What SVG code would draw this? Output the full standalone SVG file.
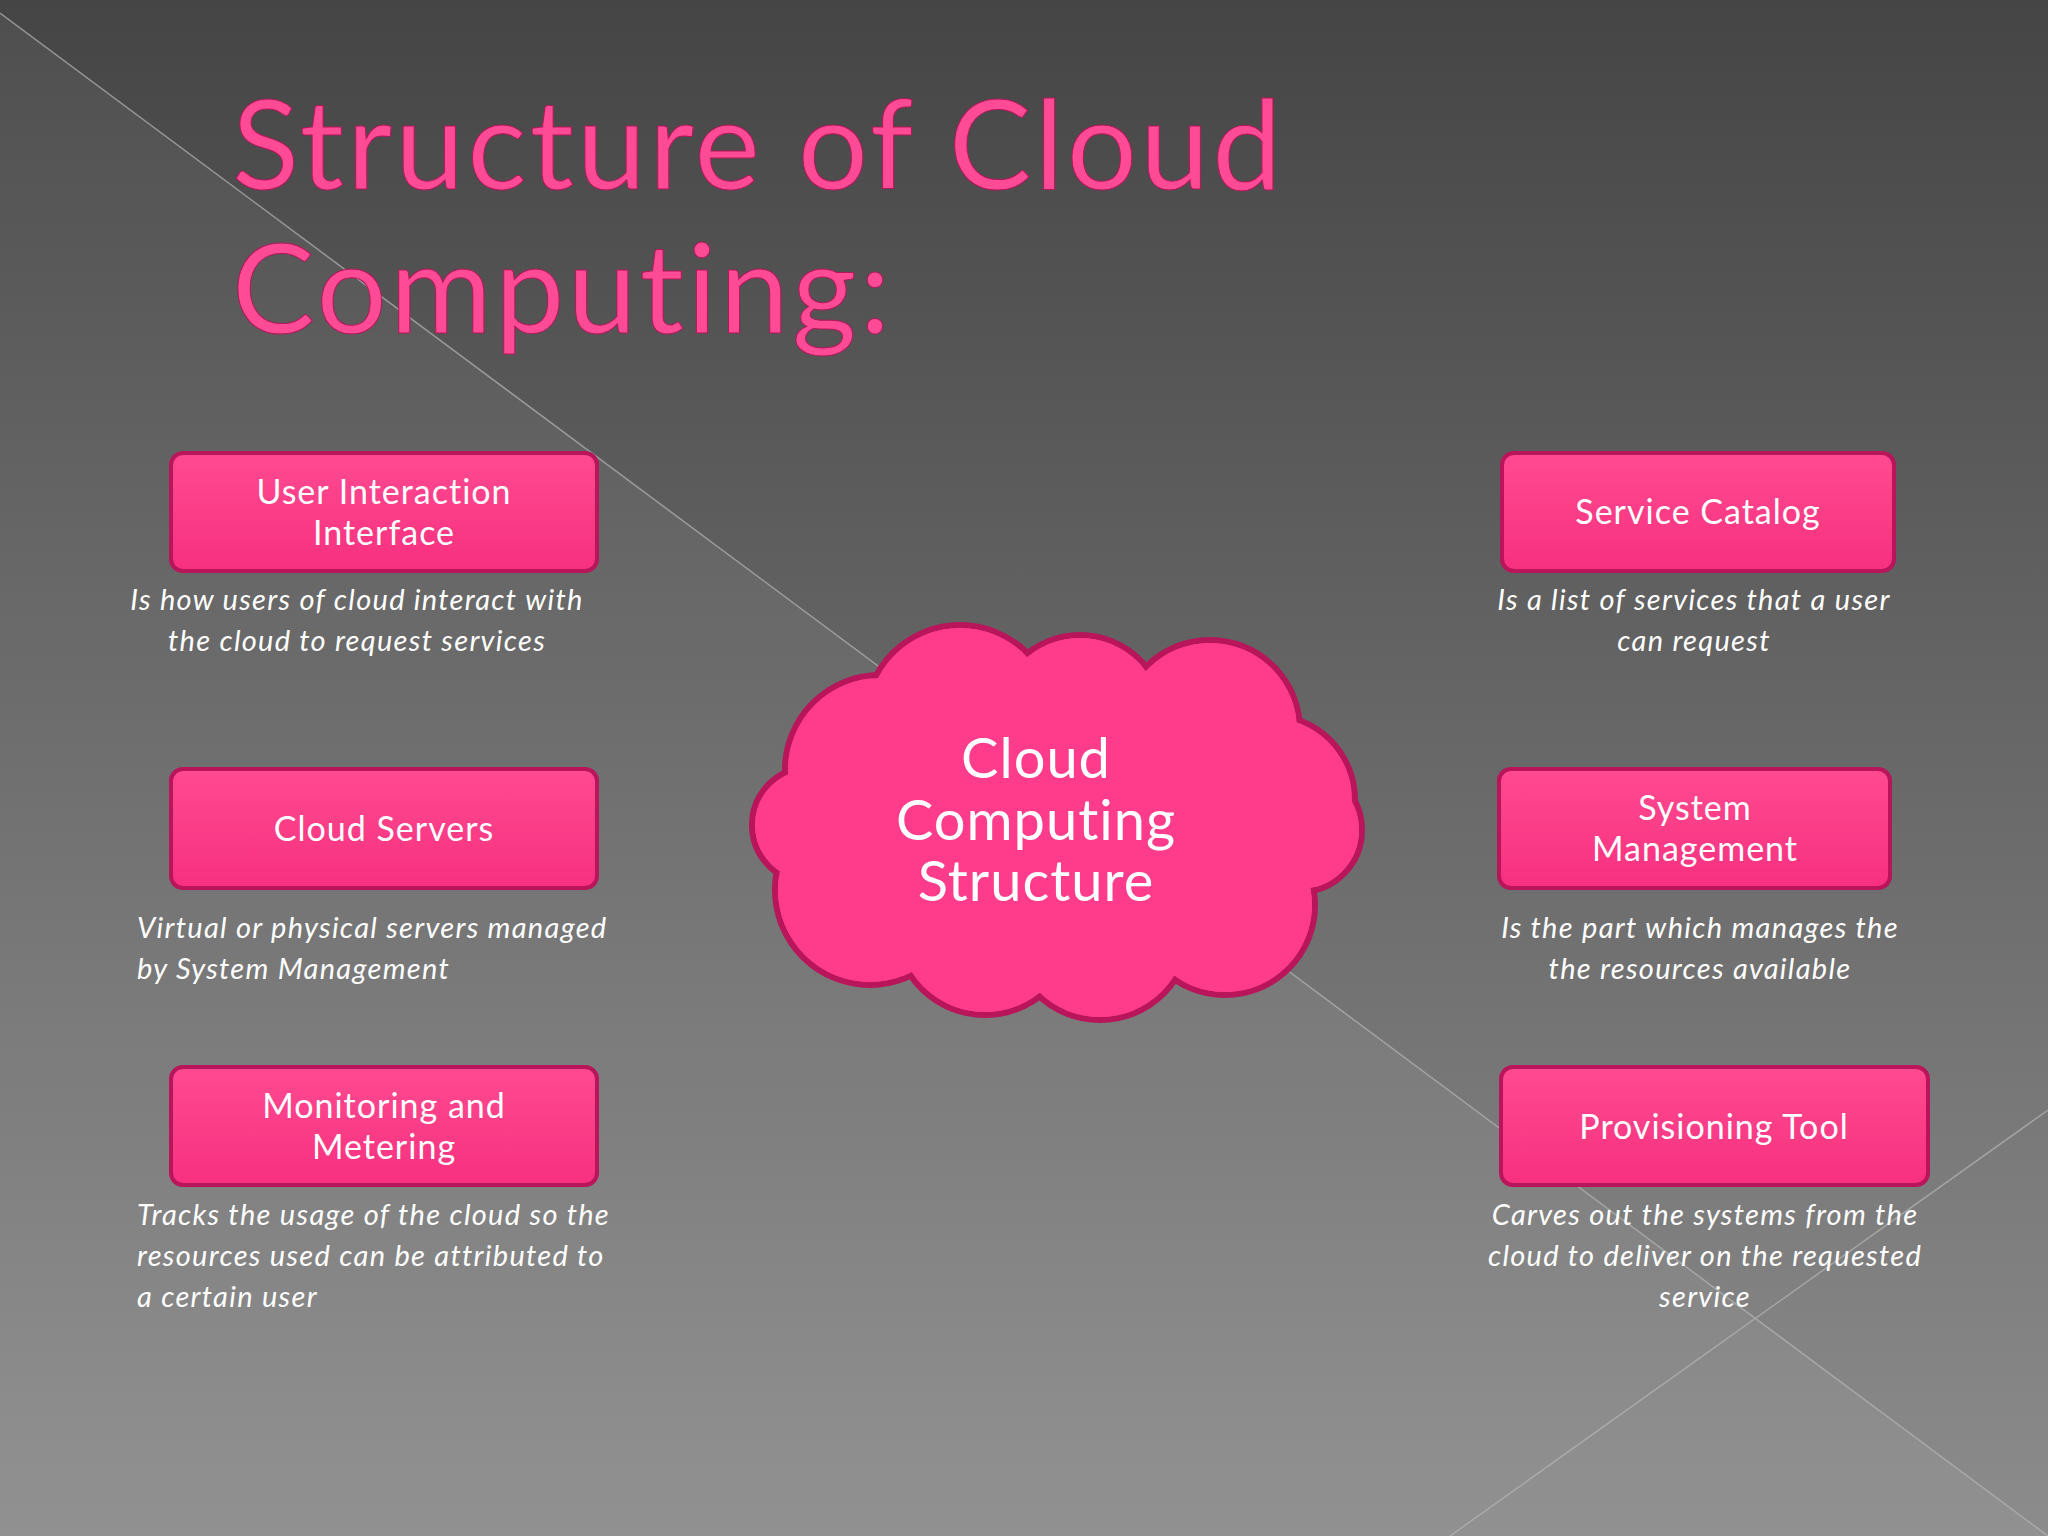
<svg xmlns="http://www.w3.org/2000/svg" width="2048" height="1536" viewBox="0 0 2048 1536">
<defs>
<linearGradient id="bg" x1="0" y1="0" x2="0" y2="1"><stop offset="0" stop-color="#454545"/><stop offset="1" stop-color="#8c8c8c"/></linearGradient>
<linearGradient id="bx" x1="0" y1="0" x2="0" y2="1"><stop offset="0" stop-color="#ff4a90"/><stop offset="1" stop-color="#f7307f"/></linearGradient>
</defs>
<style>
.box{fill:url(#bx);stroke:#b8155a;stroke-width:4}
.bt{font-family:Lato,"Noto Sans",sans-serif;font-size:34px;fill:#fff;text-anchor:middle;letter-spacing:1px}
.d{font-family:Lato,"Noto Sans",sans-serif;font-size:29px;font-style:italic;fill:#fff;letter-spacing:1.3px}
.ttl{font-family:Lato,"Noto Sans",sans-serif;font-size:124px;fill:#ff4a95;stroke:#b01858;stroke-width:1;letter-spacing:3px}
.ln{stroke:#b5b5b5;stroke-width:1.5;fill:none;opacity:.7}
.cs{fill:#ff3c8c;stroke:#b8155a;stroke-width:6}
.cf{fill:#ff3c8c}
</style>
<rect width="2048" height="1536" fill="url(#bg)"/>
<polygon points="0,13 2048,1536 0,1536" fill="#fff" opacity="0.05"/>
<g class="ln"><line x1="0" y1="13" x2="2048" y2="1536"/><line x1="2048" y1="1110" x2="1450" y2="1536"/></g>
<text class="ttl" x="232" y="189">Structure of Cloud</text>
<text class="ttl" x="232" y="333">Computing:</text>
<g id="cloud">
<g class="cs"><circle cx="880" cy="770" r="95"/><circle cx="960" cy="720" r="95"/><circle cx="1080" cy="720" r="85"/><circle cx="1210" cy="730" r="90"/><circle cx="1270" cy="800" r="85"/><circle cx="1300" cy="830" r="62"/><circle cx="1225" cy="905" r="90"/><circle cx="1100" cy="930" r="90"/><circle cx="985" cy="925" r="90"/><circle cx="870" cy="890" r="95"/><circle cx="810" cy="825" r="58"/></g>
<g class="cf"><circle cx="880" cy="770" r="92"/><circle cx="960" cy="720" r="92"/><circle cx="1080" cy="720" r="82"/><circle cx="1210" cy="730" r="87"/><circle cx="1270" cy="800" r="82"/><circle cx="1300" cy="830" r="59"/><circle cx="1225" cy="905" r="87"/><circle cx="1100" cy="930" r="87"/><circle cx="985" cy="925" r="87"/><circle cx="870" cy="890" r="92"/><circle cx="810" cy="825" r="55"/><circle cx="1060" cy="830" r="150"/></g>
<text class="bt" style="font-size:56px" x="1036" y="778">Cloud</text>
<text class="bt" style="font-size:56px" x="1036" y="840">Computing</text>
<text class="bt" style="font-size:56px" x="1036" y="901">Structure</text>
</g>
<g id="uii"><rect class="box" x="171" y="453" width="426" height="118" rx="12"/><text class="bt" x="384" y="504">User Interaction</text><text class="bt" x="384" y="545">Interface</text>
<text class="d" x="357" y="610" text-anchor="middle">Is how users of cloud interact with</text><text class="d" x="357" y="651" text-anchor="middle">the cloud to request services</text></g>
<g id="cs"><rect class="box" x="171" y="769" width="426" height="119" rx="12"/><text class="bt" x="384" y="841">Cloud Servers</text>
<text class="d" x="137" y="938">Virtual or physical servers  managed</text><text class="d" x="137" y="979">by System  Management</text></g>
<g id="mm"><rect class="box" x="171" y="1067" width="426" height="118" rx="12"/><text class="bt" x="384" y="1118">Monitoring and</text><text class="bt" x="384" y="1159">Metering</text>
<text class="d" x="137" y="1225">Tracks the usage of the cloud so the</text><text class="d" x="137" y="1266">resources used can be attributed to</text><text class="d" x="137" y="1307">a certain user</text></g>
<g id="sc"><rect class="box" x="1502" y="453" width="392" height="118" rx="12"/><text class="bt" x="1698" y="524">Service Catalog</text>
<text class="d" x="1694" y="610" text-anchor="middle">Is a list of services that a user</text><text class="d" x="1694" y="651" text-anchor="middle">can request</text></g>
<g id="sm"><rect class="box" x="1499" y="769" width="391" height="119" rx="12"/><text class="bt" x="1695" y="820">System</text><text class="bt" x="1695" y="861">Management</text>
<text class="d" x="1700" y="938" text-anchor="middle">Is the part which manages the</text><text class="d" x="1700" y="979" text-anchor="middle">the resources available</text></g>
<g id="pt"><rect class="box" x="1501" y="1067" width="427" height="118" rx="12"/><text class="bt" x="1714" y="1139">Provisioning Tool</text>
<text class="d" x="1705" y="1225" text-anchor="middle">Carves out the systems from the</text><text class="d" x="1705" y="1266" text-anchor="middle">cloud to deliver on the requested</text><text class="d" x="1705" y="1307" text-anchor="middle">service</text></g>
</svg>
